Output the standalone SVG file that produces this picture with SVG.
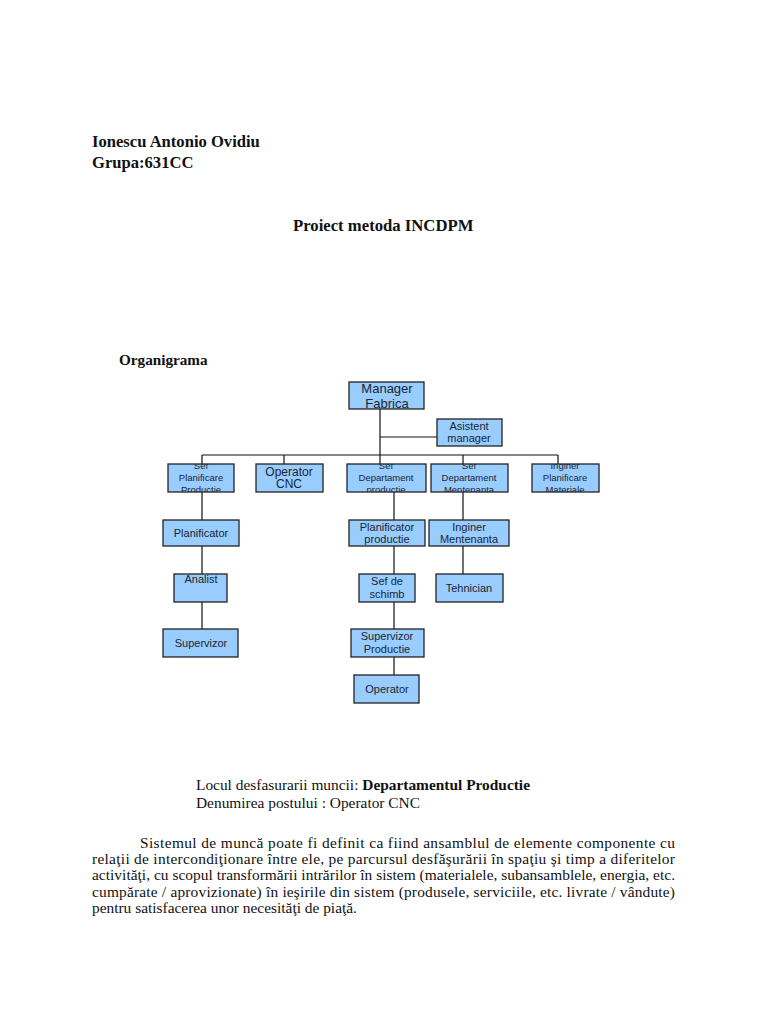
<svg xmlns="http://www.w3.org/2000/svg" width="768" height="1024" viewBox="0 0 768 1024">
<style>
.doc{font-family:"Liberation Serif","Times New Roman",serif;fill:#111;}
.b{font-weight:bold;}
.box{fill:#99ccff;stroke:#222;stroke-width:1.3;}
.lbl{font-family:"Liberation Sans",Arial,sans-serif;fill:#1a2633;text-anchor:middle;}
.c{stroke:#111;stroke-width:1.2;fill:none;}
</style>
<defs>
<clipPath id="cp1"><rect x="168" y="464" width="66" height="28"/></clipPath>
<clipPath id="cp3"><rect x="347" y="464" width="79" height="28"/></clipPath>
<clipPath id="cp4"><rect x="431" y="464" width="77" height="28"/></clipPath>
<clipPath id="cp5"><rect x="532" y="464" width="67" height="28"/></clipPath>
</defs>
<rect width="768" height="1024" fill="#fff"/>

<text class="doc b" x="92" y="147" font-size="16.6">Ionescu Antonio Ovidiu</text>
<text class="doc b" x="92" y="168" font-size="16.6">Grupa:631CC</text>
<text class="doc b" x="293" y="231" font-size="16.7">Proiect metoda INCDPM</text>
<text class="doc b" x="119" y="365" font-size="15.2">Organigrama</text>

<g id="connectors">
<line class="c" x1="380" y1="409" x2="380" y2="464"/>
<line class="c" x1="380" y1="437" x2="437" y2="437"/>
<line class="c" x1="202" y1="455" x2="558" y2="455"/>
<line class="c" x1="202" y1="455" x2="202" y2="464"/>
<line class="c" x1="284" y1="455" x2="284" y2="464"/>
<line class="c" x1="463" y1="455" x2="463" y2="464"/>
<line class="c" x1="558" y1="455" x2="558" y2="464"/>
<line class="c" x1="202" y1="492" x2="202" y2="520"/>
<line class="c" x1="202" y1="546" x2="202" y2="574"/>
<line class="c" x1="202" y1="602" x2="202" y2="629"/>
<line class="c" x1="394" y1="492" x2="394" y2="520"/>
<line class="c" x1="394" y1="546" x2="394" y2="574"/>
<line class="c" x1="394" y1="602" x2="394" y2="629"/>
<line class="c" x1="394" y1="657" x2="394" y2="675"/>
<line class="c" x1="463" y1="492" x2="463" y2="520"/>
<line class="c" x1="463" y1="546" x2="463" y2="574"/>
</g>

<g id="manager">
<rect class="box" x="349" y="382" width="75" height="27"/>
<text class="lbl" x="387" y="393" font-size="13">Manager</text>
<text class="lbl" x="387" y="408" font-size="13">Fabrica</text>
</g>
<g id="asistent">
<rect class="box" x="437" y="419" width="65" height="27"/>
<text class="lbl" x="469" y="430" font-size="11">Asistent</text>
<text class="lbl" x="469" y="442" font-size="11">manager</text>
</g>
<g id="sef-planificare">
<rect class="box" x="168" y="464" width="66" height="28"/>
<g clip-path="url(#cp1)">
<text class="lbl" x="201" y="469" font-size="9.5">Sef</text>
<text class="lbl" x="201" y="481" font-size="9.5">Planificare</text>
<text class="lbl" x="201" y="493" font-size="9.5">Productie</text>
</g>
</g>
<g id="operator-cnc">
<rect class="box" x="256" y="464" width="67" height="28"/>
<text class="lbl" x="289" y="476" font-size="12">Operator</text>
<text class="lbl" x="289" y="488" font-size="12">CNC</text>
</g>
<g id="sef-productie">
<rect class="box" x="347" y="464" width="79" height="28"/>
<g clip-path="url(#cp3)">
<text class="lbl" x="386" y="469" font-size="9.5">Sef</text>
<text class="lbl" x="386" y="481" font-size="9.5">Departament</text>
<text class="lbl" x="386" y="493" font-size="9.5">productie</text>
</g>
</g>
<g id="sef-mentenanta">
<rect class="box" x="431" y="464" width="77" height="28"/>
<g clip-path="url(#cp4)">
<text class="lbl" x="469" y="469" font-size="9.5">Sef</text>
<text class="lbl" x="469" y="481" font-size="9.5">Departament</text>
<text class="lbl" x="469" y="493" font-size="9.5">Mentenanta</text>
</g>
</g>
<g id="inginer-planificare">
<rect class="box" x="532" y="464" width="67" height="28"/>
<g clip-path="url(#cp5)">
<text class="lbl" x="565" y="469" font-size="9.5">Inginer</text>
<text class="lbl" x="565" y="481" font-size="9.5">Planificare</text>
<text class="lbl" x="565" y="493" font-size="9.5">Materiale</text>
</g>
</g>

<g id="planificator">
<rect class="box" x="163" y="520" width="76" height="26"/>
<text class="lbl" x="201" y="537" font-size="11">Planificator</text>
</g>
<g id="analist">
<rect class="box" x="174" y="574" width="53" height="28"/>
<text class="lbl" x="201" y="583" font-size="11">Analist</text>
</g>
<g id="supervizor">
<rect class="box" x="163" y="629" width="75" height="28"/>
<text class="lbl" x="201" y="647" font-size="11">Supervizor</text>
</g>
<g id="planificator-productie">
<rect class="box" x="349" y="520" width="76" height="26"/>
<text class="lbl" x="387" y="531" font-size="11">Planificator</text>
<text class="lbl" x="387" y="543" font-size="11">productie</text>
</g>
<g id="inginer-mentenanta">
<rect class="box" x="429" y="520" width="80" height="26"/>
<text class="lbl" x="469" y="531" font-size="11">Inginer</text>
<text class="lbl" x="469" y="543" font-size="11">Mentenanta</text>
</g>
<g id="sef-schimb">
<rect class="box" x="359" y="574" width="56" height="28"/>
<text class="lbl" x="387" y="585" font-size="11">Sef de</text>
<text class="lbl" x="387" y="598" font-size="11">schimb</text>
</g>
<g id="tehnician">
<rect class="box" x="436" y="574" width="67" height="28"/>
<text class="lbl" x="469" y="592" font-size="11">Tehnician</text>
</g>
<g id="supervizor-productie">
<rect class="box" x="351" y="629" width="73" height="28"/>
<text class="lbl" x="387" y="640" font-size="11">Supervizor</text>
<text class="lbl" x="387" y="653" font-size="11">Productie</text>
</g>
<g id="operator">
<rect class="box" x="354" y="675" width="65" height="28"/>
<text class="lbl" x="387" y="693" font-size="11">Operator</text>
</g>

<text class="doc" x="196" y="790" font-size="15.4">Locul desfasurarii muncii: <tspan class="b">Departamentul Productie</tspan></text>
<text class="doc" x="196" y="808" font-size="15.4">Denumirea postului : Operator CNC</text>

<text class="doc" x="140" y="848" font-size="15.4" textLength="535" lengthAdjust="spacing">Sistemul de muncă poate fi definit ca fiind ansamblul de elemente componente cu</text>
<text class="doc" x="92" y="864" font-size="15.4" textLength="583" lengthAdjust="spacing">relaţii de intercondiţionare între ele, pe parcursul desfăşurării în spaţiu şi timp a diferitelor</text>
<text class="doc" x="92" y="880" font-size="15.4" textLength="583" lengthAdjust="spacing">activităţi, cu scopul transformării intrărilor în sistem (materialele, subansamblele, energia, etc.</text>
<text class="doc" x="92" y="897" font-size="15.4" textLength="583" lengthAdjust="spacing">cumpărate / aprovizionate) în ieşirile din sistem (produsele, serviciile, etc. livrate / vândute)</text>
<text class="doc" x="92" y="913" font-size="15.4">pentru satisfacerea unor necesităţi de piaţă.</text>
</svg>
